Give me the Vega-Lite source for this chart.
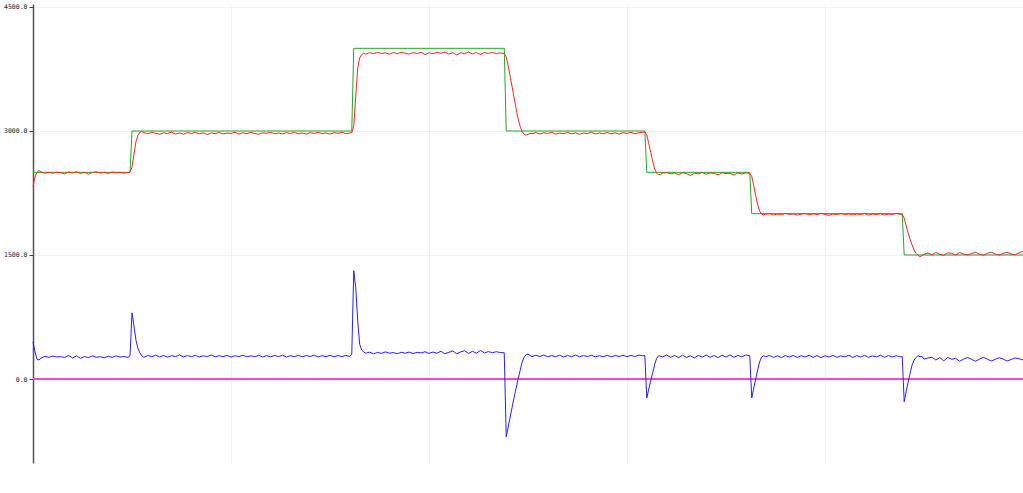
{
"$schema": "https://vega.github.io/schema/vega-lite/v6.json",
"width": 990, "height": 459,
"autosize": "none",
"padding": {"left": 33, "top": 4, "right": 0, "bottom": 30},
"background": "white",
"config": {"view": {"stroke": null}},
"datasets": {
"z": [{"x": 0, "v": 0}, {"x": 500, "v": 0}],
"sp": [{"x":0,"v":2500},{"x":49,"v":2500},{"x":50,"v":3000},{"x":161,"v":3000},{"x":162,"v":4000},{"x":238,"v":4000},{"x":239,"v":3000},{"x":309,"v":3000},{"x":310,"v":2500},{"x":362,"v":2500},{"x":363,"v":2000},{"x":439,"v":2000},{"x":440,"v":1500},{"x":500,"v":1500}],
"pv": [
{"x":0,"r":2330,"b":450},{"x":1,"r":2440,"b":330},{"x":2,"r":2500,"b":240},{"x":3,"r":2520,"b":230},{"x":4,"r":2505,"b":250},
{"x":6,"r":2490,"b":275},{"x":8,"r":2500,"b":262},{"x":10,"r":2488,"b":278},{"x":12,"r":2502,"b":266},{"x":14,"r":2495,"b":270},
{"x":16,"r":2480,"b":260},{"x":18,"r":2505,"b":285},{"x":20,"r":2492,"b":255},{"x":22,"r":2508,"b":280},{"x":24,"r":2485,"b":250},
{"x":26,"r":2500,"b":272},{"x":28,"r":2478,"b":258},{"x":30,"r":2498,"b":280},{"x":32,"r":2506,"b":262},{"x":34,"r":2490,"b":270},
{"x":36,"r":2500,"b":256},{"x":38,"r":2485,"b":275},{"x":40,"r":2503,"b":262},{"x":42,"r":2492,"b":280},{"x":44,"r":2500,"b":265},
{"x":46,"r":2488,"b":272},{"x":48,"r":2498,"b":262},{"x":49,"r":2505,"b":280},{"x":50,"r":2560,"b":800},{"x":51,"r":2720,"b":640},
{"x":52,"r":2870,"b":470},{"x":53,"r":2950,"b":370},{"x":54,"r":2985,"b":315},{"x":55,"r":2992,"b":280},{"x":56,"r":2980,"b":262},
{"x":58,"r":2968,"b":285},{"x":60,"r":2985,"b":270},{"x":62,"r":2972,"b":288},{"x":64,"r":2960,"b":268},{"x":66,"r":2978,"b":284},
{"x":68,"r":2970,"b":265},{"x":70,"r":2986,"b":282},{"x":72,"r":2965,"b":272},{"x":74,"r":2975,"b":290},{"x":76,"r":2962,"b":268},
{"x":78,"r":2980,"b":283},{"x":80,"r":2970,"b":270},{"x":82,"r":2984,"b":286},{"x":84,"r":2966,"b":266},{"x":86,"r":2978,"b":280},
{"x":88,"r":2958,"b":272},{"x":90,"r":2976,"b":290},{"x":92,"r":2968,"b":268},{"x":94,"r":2982,"b":282},{"x":96,"r":2964,"b":270},
{"x":98,"r":2975,"b":286},{"x":100,"r":2970,"b":265},{"x":102,"r":2985,"b":281},{"x":104,"r":2962,"b":272},{"x":106,"r":2978,"b":288},
{"x":108,"r":2968,"b":268},{"x":110,"r":2984,"b":280},{"x":112,"r":2970,"b":270},{"x":114,"r":2960,"b":287},{"x":116,"r":2978,"b":266},
{"x":118,"r":2972,"b":283},{"x":120,"r":2986,"b":268},{"x":122,"r":2966,"b":285},{"x":124,"r":2976,"b":272},{"x":126,"r":2964,"b":288},
{"x":128,"r":2980,"b":266},{"x":130,"r":2970,"b":282},{"x":132,"r":2984,"b":270},{"x":134,"r":2966,"b":286},{"x":136,"r":2976,"b":268},
{"x":138,"r":2962,"b":284},{"x":140,"r":2980,"b":272},{"x":142,"r":2970,"b":289},{"x":144,"r":2984,"b":266},{"x":146,"r":2968,"b":282},
{"x":148,"r":2976,"b":270},{"x":150,"r":2962,"b":287},{"x":152,"r":2980,"b":268},{"x":154,"r":2972,"b":284},{"x":156,"r":2984,"b":270},
{"x":158,"r":2968,"b":286},{"x":160,"r":2976,"b":272},{"x":161,"r":2980,"b":300},{"x":162,"r":3060,"b":1310},{"x":163,"r":3420,"b":1110},
{"x":164,"r":3760,"b":700},{"x":165,"r":3885,"b":420},{"x":166,"r":3925,"b":350},{"x":167,"r":3940,"b":328},{"x":168,"r":3930,"b":312},
{"x":170,"r":3948,"b":325},{"x":172,"r":3935,"b":305},{"x":174,"r":3950,"b":322},{"x":176,"r":3938,"b":310},{"x":178,"r":3945,"b":328},
{"x":180,"r":3930,"b":312},{"x":182,"r":3948,"b":320},{"x":184,"r":3936,"b":305},{"x":186,"r":3952,"b":324},{"x":188,"r":3940,"b":312},
{"x":190,"r":3930,"b":326},{"x":192,"r":3948,"b":308},{"x":194,"r":3938,"b":322},{"x":196,"r":3952,"b":315},{"x":198,"r":3925,"b":330},
{"x":200,"r":3946,"b":310},{"x":202,"r":3934,"b":326},{"x":204,"r":3950,"b":312},{"x":206,"r":3940,"b":336},{"x":208,"r":3955,"b":306},
{"x":210,"r":3930,"b":322},{"x":212,"r":3948,"b":340},{"x":214,"r":3920,"b":305},{"x":216,"r":3946,"b":328},{"x":218,"r":3936,"b":342},
{"x":220,"r":3955,"b":310},{"x":222,"r":3932,"b":335},{"x":224,"r":3950,"b":312},{"x":226,"r":3925,"b":345},{"x":228,"r":3948,"b":315},
{"x":230,"r":3938,"b":332},{"x":232,"r":3952,"b":318},{"x":234,"r":3935,"b":330},{"x":236,"r":3945,"b":320},{"x":238,"r":3935,"b":318},
{"x":239,"r":3895,"b":-700},{"x":240,"r":3790,"b":-580},{"x":241,"r":3660,"b":-460},{"x":242,"r":3530,"b":-340},{"x":243,"r":3400,"b":-220},
{"x":244,"r":3270,"b":-110},{"x":245,"r":3150,"b":0},{"x":246,"r":3055,"b":100},{"x":247,"r":2995,"b":200},{"x":248,"r":2962,"b":262},
{"x":249,"r":2950,"b":292},{"x":250,"r":2958,"b":302},{"x":251,"r":2972,"b":285},{"x":252,"r":2968,"b":270},{"x":254,"r":2980,"b":288},
{"x":256,"r":2964,"b":272},{"x":258,"r":2978,"b":290},{"x":260,"r":2970,"b":268},{"x":262,"r":2985,"b":284},{"x":264,"r":2962,"b":270},
{"x":266,"r":2976,"b":288},{"x":268,"r":2968,"b":266},{"x":270,"r":2982,"b":283},{"x":272,"r":2966,"b":270},{"x":274,"r":2978,"b":290},
{"x":276,"r":2960,"b":268},{"x":278,"r":2975,"b":284},{"x":280,"r":2970,"b":272},{"x":282,"r":2984,"b":288},{"x":284,"r":2964,"b":268},
{"x":286,"r":2976,"b":282},{"x":288,"r":2968,"b":270},{"x":290,"r":2982,"b":287},{"x":292,"r":2966,"b":268},{"x":294,"r":2978,"b":284},
{"x":296,"r":2962,"b":272},{"x":298,"r":2980,"b":288},{"x":300,"r":2970,"b":270},{"x":302,"r":2985,"b":286},{"x":304,"r":2966,"b":272},
{"x":306,"r":2978,"b":290},{"x":308,"r":2985,"b":280},{"x":309,"r":2990,"b":285},{"x":310,"r":2950,"b":-230},{"x":311,"r":2850,"b":-120},
{"x":312,"r":2740,"b":-20},{"x":313,"r":2630,"b":80},{"x":314,"r":2540,"b":180},{"x":315,"r":2488,"b":250},{"x":316,"r":2472,"b":282},
{"x":317,"r":2478,"b":275},{"x":318,"r":2490,"b":268},{"x":320,"r":2496,"b":290},{"x":322,"r":2482,"b":262},{"x":324,"r":2492,"b":285},
{"x":326,"r":2470,"b":258},{"x":328,"r":2494,"b":288},{"x":330,"r":2486,"b":262},{"x":332,"r":2460,"b":280},{"x":334,"r":2490,"b":255},
{"x":336,"r":2482,"b":286},{"x":338,"r":2496,"b":265},{"x":340,"r":2478,"b":290},{"x":342,"r":2492,"b":262},{"x":344,"r":2486,"b":284},
{"x":346,"r":2470,"b":258},{"x":348,"r":2494,"b":288},{"x":350,"r":2484,"b":265},{"x":352,"r":2490,"b":292},{"x":354,"r":2466,"b":262},
{"x":356,"r":2492,"b":285},{"x":358,"r":2480,"b":268},{"x":360,"r":2494,"b":290},{"x":362,"r":2488,"b":282},{"x":363,"r":2450,"b":-230},
{"x":364,"r":2340,"b":-110},{"x":365,"r":2220,"b":0},{"x":366,"r":2110,"b":110},{"x":367,"r":2030,"b":210},{"x":368,"r":1995,"b":265},
{"x":369,"r":1985,"b":282},{"x":370,"r":1995,"b":270},{"x":372,"r":2000,"b":285},{"x":374,"r":1984,"b":262},{"x":376,"r":1996,"b":280},
{"x":378,"r":1986,"b":258},{"x":380,"r":2004,"b":284},{"x":382,"r":1990,"b":265},{"x":384,"r":1998,"b":286},{"x":386,"r":1982,"b":260},
{"x":388,"r":1994,"b":282},{"x":390,"r":2002,"b":266},{"x":392,"r":1986,"b":288},{"x":394,"r":1998,"b":262},{"x":396,"r":1988,"b":284},
{"x":398,"r":2004,"b":258},{"x":400,"r":1990,"b":282},{"x":402,"r":1980,"b":265},{"x":404,"r":1996,"b":286},{"x":406,"r":1988,"b":262},
{"x":408,"r":2002,"b":280},{"x":410,"r":1986,"b":268},{"x":412,"r":1998,"b":288},{"x":414,"r":1984,"b":260},{"x":416,"r":1996,"b":283},
{"x":418,"r":1990,"b":266},{"x":420,"r":2002,"b":286},{"x":422,"r":1982,"b":262},{"x":424,"r":1996,"b":280},{"x":426,"r":1988,"b":268},
{"x":428,"r":2000,"b":288},{"x":430,"r":1984,"b":262},{"x":432,"r":1996,"b":284},{"x":434,"r":1990,"b":266},{"x":436,"r":2002,"b":282},
{"x":438,"r":1992,"b":268},{"x":439,"r":1995,"b":272},{"x":440,"r":1945,"b":-275},{"x":441,"r":1855,"b":-150},{"x":442,"r":1765,"b":-40},
{"x":443,"r":1690,"b":70},{"x":444,"r":1620,"b":170},{"x":445,"r":1560,"b":230},{"x":446,"r":1520,"b":262},{"x":447,"r":1495,"b":282},
{"x":448,"r":1480,"b":268},{"x":449,"r":1492,"b":275},{"x":450,"r":1508,"b":240},{"x":452,"r":1525,"b":255},{"x":454,"r":1502,"b":262},
{"x":456,"r":1530,"b":230},{"x":458,"r":1508,"b":258},{"x":460,"r":1496,"b":220},{"x":462,"r":1526,"b":262},{"x":464,"r":1520,"b":238},
{"x":466,"r":1500,"b":250},{"x":468,"r":1530,"b":215},{"x":470,"r":1512,"b":240},{"x":472,"r":1500,"b":260},{"x":474,"r":1518,"b":238},
{"x":476,"r":1532,"b":215},{"x":478,"r":1510,"b":240},{"x":480,"r":1498,"b":262},{"x":482,"r":1520,"b":240},{"x":484,"r":1534,"b":218},
{"x":486,"r":1512,"b":238},{"x":488,"r":1500,"b":258},{"x":490,"r":1518,"b":240},{"x":492,"r":1532,"b":218},{"x":494,"r":1512,"b":236},
{"x":496,"r":1505,"b":255},{"x":498,"r":1525,"b":245},{"x":500,"r":1545,"b":230}
]
},
"encoding": {
"x": {"field": "x", "type": "quantitative", "scale": {"domain": [0, 500], "nice": false, "zero": false},
 "axis": {"values": [100, 200, 300, 400], "labels": false, "ticks": false, "domain": false, "grid": true, "gridColor": "#f0f0f0", "title": null}},
"y": {"field": "v", "type": "quantitative", "scale": {"domain": [-1016, 4536], "nice": false, "zero": false},
 "axis": {"values": [0, 1500, 3000, 4500], "format": ".1f", "title": null, "grid": true, "gridColor": "#f0f0f0", "tickSize": 4, "tickColor": "#444", "domainColor": "#555", "domainWidth": 1.5, "labelFont": "DejaVu Sans Mono", "labelFontSize": 6.5, "labelColor": "#222", "labelPadding": 2}}
},
"layer": [
{"data": {"name": "z"}, "mark": {"type": "line", "color": "#ffd050", "strokeWidth": 2}},
{"data": {"name": "z"}, "mark": {"type": "line", "color": "#ee22ee", "strokeWidth": 1.5}},
{"data": {"name": "sp"}, "mark": {"type": "line", "color": "#22aa22", "strokeWidth": 1}},
{"data": {"name": "pv"}, "transform": [{"fold": ["r", "b"], "as": ["s", "v"]}], "mark": {"type": "line", "strokeWidth": 1},
 "encoding": {"color": {"field": "s", "type": "nominal", "scale": {"domain": ["r", "b"], "range": ["#ff2222", "#2222ff"]}, "legend": null}}}
]
}
